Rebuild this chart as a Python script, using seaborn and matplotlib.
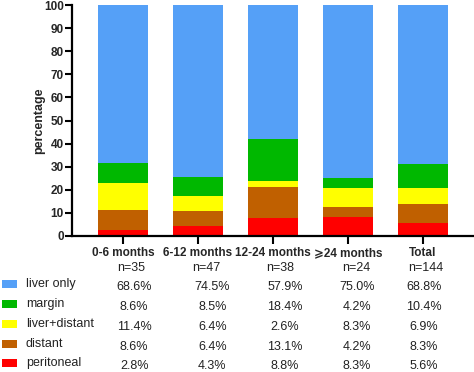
import numpy as np
import pandas as pd
import seaborn as sns
import matplotlib.pyplot as plt
import matplotlib.transforms as mtransforms
from matplotlib.patches import Rectangle

groups = ['0-6 months', '6-12 months', '12-24 months', '\u2a7e24 months', 'Total']
n_counts = [35, 47, 38, 24, 144]
series = ['liver only', 'margin', 'liver+distant', 'distant', 'peritoneal']

# bar heights (%) as drawn
liver_only = [68.6, 74.5, 57.9, 75.0, 68.8]
margin = [8.6, 8.5, 18.4, 4.2, 10.4]
liver_distant = [11.4, 6.4, 2.6, 8.3, 6.9]
distant = [8.6, 6.4, 13.1, 4.2, 8.3]
peritoneal = [2.8, 4.3, 7.9, 8.3, 5.6]

# percentages as printed in the table under the chart
liver_only_txt = ['68.6%', '74.5%', '57.9%', '75.0%', '68.8%']
margin_txt = ['8.6%', '8.5%', '18.4%', '4.2%', '10.4%']
liver_distant_txt = ['11.4%', '6.4%', '2.6%', '8.3%', '6.9%']
distant_txt = ['8.6%', '6.4%', '13.1%', '4.2%', '8.3%']
peritoneal_txt = ['2.8%', '4.3%', '8.8%', '8.3%', '5.6%']

colors = ['#55A0F7', '#00B800', '#FFFF00', '#C06000', '#FF0000']

sns.set_style('ticks')
plt.rcParams['font.family'] = ['Liberation Sans', 'DejaVu Sans']

values = [liver_only, margin, liver_distant, distant, peritoneal]
table_txt = [liver_only_txt, margin_txt, liver_distant_txt, distant_txt, peritoneal_txt]

fig = plt.figure(figsize=(4.74, 3.72), dpi=100)
ax = fig.add_axes([72 / 474, 1 - 236 / 372, 1 - 72 / 474, 231 / 372])

# stacked bars: cumulative heights, drawn from the tallest (top layer) down
cum = np.cumsum(np.array(values[::-1]), axis=0)[::-1]
cum[0] = 100
for s, c, top in zip(series, colors, cum):
    d = pd.DataFrame({'group': groups, 'top': top})
    sns.barplot(data=d, x='group', y='top', color=c, saturation=1, width=0.667,
                order=groups, ax=ax, linewidth=0, errorbar=None)

ax.set_ylim(0, 100)
ax.set_xlim(-0.68, 4.68)
ax.set_yticks(range(0, 101, 10))
ax.set_xlabel('')
ax.set_ylabel('percentage', fontsize=9, fontweight='bold', labelpad=-1)
for lab in ax.get_yticklabels():
    lab.set_fontweight('bold')
ax.tick_params(axis='y', labelsize=8.5, width=1.5, length=5, pad=1, color='black')
ax.tick_params(axis='x', labelsize=8.5, width=1.5, length=6, pad=2, color='black')
for lab in ax.get_xticklabels():
    lab.set_fontweight('bold')
sns.despine(ax=ax)
for sp in ['left', 'bottom']:
    ax.spines[sp].set_linewidth(1.6)
    ax.spines[sp].set_color('black')

# table under the chart
trans = mtransforms.blended_transform_factory(ax.transData, fig.transFigure)
n_off = [0.11, 0.11, 0.09, 0.11, 0.04]
v_off = [0.15, 0.19, 0.16, 0.12, 0.01]
for i, n in enumerate(n_counts):
    fig.text(i + n_off[i], 1 - 268 / 372, f'n={n}', transform=trans,
             ha='center', va='center', fontsize=9, color='#222222')

row_y = [284, 304, 324, 344, 363]
for r, (s, c, txts) in enumerate(zip(series, colors, table_txt)):
    y = 1 - row_y[r] / 372
    fig.patches.append(Rectangle((2 / 474, y - 4 / 372), 15 / 474, 8 / 372,
                                 transform=fig.transFigure, color=c, lw=0))
    fig.text(26 / 474, y, s, ha='left', va='center', fontsize=9, color='#222222')
    for i, t in enumerate(txts):
        fig.text(i + v_off[i], y - 3 / 372, t, transform=trans,
                 ha='center', va='center', fontsize=9, color='#222222')

fig.savefig('out.png', dpi=100)
